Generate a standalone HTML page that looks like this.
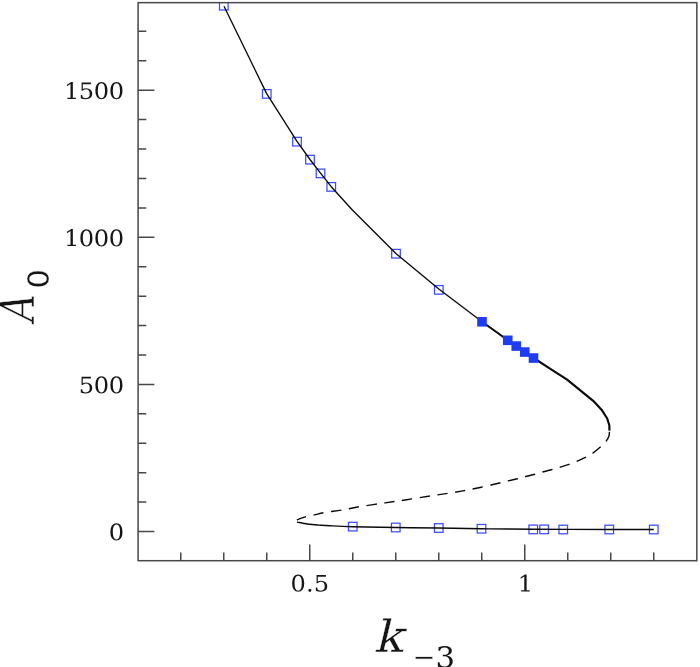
<!DOCTYPE html>
<html lang="en"><head><meta charset="utf-8"><title>A0 versus k-3</title>
<style>html,body{margin:0;padding:0;background:#fff}body{width:700px;height:667px;overflow:hidden}svg{display:block}text{font-family:"Liberation Serif","DejaVu Serif",serif;fill:#151515}.tl,.ti{font-family:"DejaVu Serif","Liberation Serif",serif;stroke:#fff;stroke-width:0.15px}.ti{stroke-width:0.3px}.tl{letter-spacing:-0.4px;stroke:none}</style>
</head><body>
<svg width="700" height="667" viewBox="0 0 700 667">
<rect x="0" y="0" width="700" height="667" fill="#fff"/>
<clipPath id="pa"><rect x="138.10" y="2.65" width="558.75" height="558.05"/></clipPath>
<g fill="none" stroke="#3a4dff" stroke-width="1.25" clip-path="url(#pa)">
<rect x="219.50" y="1.40" width="8.6" height="8.6"/>
<rect x="262.45" y="89.60" width="8.6" height="8.6"/>
<rect x="292.70" y="137.35" width="8.6" height="8.6"/>
<rect x="305.70" y="155.35" width="8.6" height="8.6"/>
<rect x="316.20" y="169.10" width="8.6" height="8.6"/>
<rect x="326.95" y="182.60" width="8.6" height="8.6"/>
<rect x="391.70" y="249.40" width="8.6" height="8.6"/>
<rect x="434.50" y="285.55" width="8.6" height="8.6"/>
<rect x="348.45" y="522.30" width="8.6" height="8.6"/>
<rect x="391.45" y="523.20" width="8.6" height="8.6"/>
<rect x="434.45" y="523.70" width="8.6" height="8.6"/>
<rect x="477.20" y="524.45" width="8.6" height="8.6"/>
<rect x="528.95" y="525.10" width="8.6" height="8.6"/>
<rect x="539.80" y="525.10" width="8.6" height="8.6"/>
<rect x="558.95" y="525.20" width="8.6" height="8.6"/>
<rect x="604.95" y="525.20" width="8.6" height="8.6"/>
<rect x="649.45" y="525.20" width="8.6" height="8.6"/>
</g>
<g fill="none" stroke="#0a0a0a" stroke-linecap="butt" stroke-linejoin="round">
<path stroke-width="1.35" d="M224.00 6.20 L266.65 93.60 L297.00 141.40 L310.00 159.50 L320.50 173.20 L331.25 186.70 L352.60 210.30 L395.90 253.50 L438.80 289.00 L481.75 321.50"/>
<path stroke-width="2.15" d="M481.75 321.50 L507.50 340.00 L533.25 357.75 L550.00 368.60 L567.10 379.70 L593.20 400.80 L602.20 410.60 L607.20 418.50 L609.30 425.20 L609.50 430.60"/>
<path stroke-width="1.4" stroke-dasharray="10.3 7.63" stroke-dashoffset="-1.3" d="M609.50 430.60 C609.40 431.53 609.50 434.38 608.90 436.20 C608.30 438.02 607.27 439.73 605.90 441.50 C604.53 443.27 602.97 444.80 600.70 446.80 C598.43 448.80 594.73 451.77 592.30 453.50 C589.87 455.23 588.73 455.87 586.10 457.20 C583.47 458.53 579.35 460.30 576.50 461.50 C573.65 462.70 571.88 463.40 569.00 464.40 C566.12 465.40 562.08 466.65 559.25 467.50 C556.42 468.35 554.79 468.75 552.00 469.50 C549.21 470.25 545.33 471.21 542.50 472.00 C539.67 472.79 537.92 473.46 535.00 474.25 C532.08 475.04 527.92 476.00 525.00 476.75 C522.08 477.50 520.42 478.04 517.50 478.75 C514.58 479.46 513.75 479.54 507.50 481.00 C501.25 482.46 488.75 485.62 480.00 487.50 C471.25 489.38 463.33 490.83 455.00 492.25 C446.67 493.67 438.33 494.71 430.00 496.00 C421.67 497.29 412.50 498.85 405.00 500.00 C397.50 501.15 392.50 501.80 385.00 502.90 C377.50 504.00 367.10 505.42 360.00 506.60 C352.90 507.78 348.28 509.02 342.40 510.00 C336.52 510.98 329.38 511.68 324.70 512.50 C320.02 513.32 317.35 514.23 314.30 514.90 C311.25 515.57 308.52 515.95 306.40 516.50 C304.28 517.05 303.18 517.62 301.60 518.20 C300.02 518.78 297.68 519.70 296.90 520.00"/>
<path stroke-width="1.4" d="M296.90 522.10 C297.92 522.28 300.93 522.83 303.00 523.20 C305.07 523.57 306.63 523.98 309.30 524.30 C311.97 524.62 315.55 524.85 319.00 525.10 C322.45 525.35 324.38 525.53 330.00 525.80 C335.62 526.07 341.79 526.42 352.75 526.70 C363.71 526.98 381.42 527.28 395.75 527.50 C410.08 527.72 424.46 527.79 438.75 528.00 C453.04 528.21 465.79 528.54 481.50 528.75 C497.21 528.96 511.75 529.12 533.00 529.25 C554.25 529.38 588.88 529.46 609.00 529.50 C629.12 529.54 646.29 529.50 653.75 529.50"/>
</g>
<g fill="#1f3cf5" stroke="none">
<rect x="477.20" y="317.00" width="9.6" height="9.6"/>
<rect x="502.95" y="335.50" width="9.6" height="9.6"/>
<rect x="511.45" y="341.25" width="9.6" height="9.6"/>
<rect x="519.95" y="347.25" width="9.6" height="9.6"/>
<rect x="528.70" y="353.25" width="9.6" height="9.6"/>
</g>
<g fill="none" stroke="#45494b" stroke-width="1.5">
<rect x="138.10" y="2.65" width="558.75" height="558.05"/>
<path d="M180.75 560.70V552.50M223.75 560.70V552.50M266.75 560.70V552.50M309.75 560.70V544.40M352.75 560.70V552.50M395.75 560.70V552.50M438.75 560.70V552.50M481.75 560.70V552.50M524.75 560.70V544.40M567.75 560.70V552.50M610.75 560.70V552.50M653.75 560.70V552.50M138.10 531.50H154.40M138.10 502.08H146.30M138.10 472.66H146.30M138.10 443.24H146.30M138.10 413.82H146.30M138.10 384.40H154.40M138.10 354.98H146.30M138.10 325.56H146.30M138.10 296.14H146.30M138.10 266.72H146.30M138.10 237.30H154.40M138.10 207.88H146.30M138.10 178.46H146.30M138.10 149.04H146.30M138.10 119.62H146.30M138.10 90.20H154.40M138.10 60.78H146.30M138.10 31.36H146.30"/>
</g>
<text class="tl" font-size="22.8" text-anchor="end" transform="translate(123.70 99.05) skewY(0.03) scale(1.06 1)">1500</text>
<text class="tl" font-size="22.8" text-anchor="end" transform="translate(123.70 246.15) skewY(0.03) scale(1.06 1)">1000</text>
<text class="tl" font-size="22.8" text-anchor="end" transform="translate(123.70 393.25) skewY(0.03) scale(1.06 1)">500</text>
<text class="tl" font-size="22.8" text-anchor="end" transform="translate(123.70 540.35) skewY(0.03) scale(1.06 1)">0</text>
<text class="tl" font-size="22.8" text-anchor="middle" style="letter-spacing:0" transform="translate(309.80 591.60) skewY(0.03) scale(1.06 1)">0.5</text>
<text class="tl" font-size="22.8" text-anchor="middle" transform="translate(525.10 591.60) skewY(0.03) scale(1.06 1)">1</text>
<g transform="translate(33.6,324.6) rotate(-90)">
<text class="ti" x="0" y="0" font-size="48.5" style="stroke-width:0.6px" transform="scale(0.79 1) skewX(-14)">A</text>
<text class="ti" x="36.0" y="15.4" font-size="30.6" style="font-family:'DejaVu Sans','Liberation Sans',sans-serif;stroke-width:0.2px">0</text>
</g>
<text class="ti" font-size="44.6" transform="translate(373.8 652) scale(1.07 1) skewX(-12.5)">k</text>
<text class="ti" x="412.3" y="666.7" font-size="29" style="stroke-width:0.6px" transform="translate(412.3 0) scale(0.97 1) translate(-412.3 0)">−</text>
<text class="ti" x="435.4" y="668" font-size="29" style="stroke:none" transform="translate(435.4 0) scale(1.06 1) translate(-435.4 0)">3</text>
</svg>
</body></html>
